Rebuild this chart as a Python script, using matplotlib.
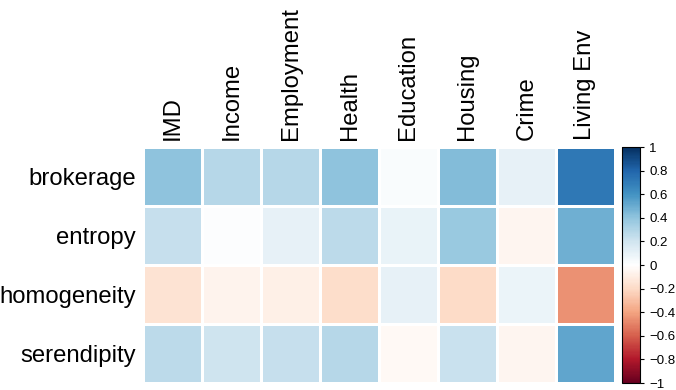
import numpy as np
import matplotlib
matplotlib.use("Agg")
import matplotlib.pyplot as plt
from matplotlib.colors import LinearSegmentedColormap

rows = ["brokerage", "entropy", "homogeneity", "serendipity"]
cols = ["IMD", "Income", "Employment", "Health", "Education", "Housing", "Crime", "Living Env"]

brokerage = [0.40, 0.28, 0.28, 0.40, 0.02, 0.43, 0.10, 0.71]
entropy = [0.23, 0.01, 0.10, 0.26, 0.09, 0.37, -0.06, 0.48]
homogeneity = [-0.16, -0.07, -0.09, -0.19, 0.10, -0.20, 0.08, -0.46]
serendipity = [0.26, 0.20, 0.23, 0.28, -0.04, 0.22, -0.06, 0.52]

cbar_ticks = [-1, -0.8, -0.6, -0.4, -0.2, 0, 0.2, 0.4, 0.6, 0.8, 1]

data = np.array([brokerage, entropy, homogeneity, serendipity])

palette = ["#67001F", "#B2182B", "#D6604D", "#F4A582", "#FDDBC7", "#FFFFFF",
           "#D1E5F0", "#92C5DE", "#4393C3", "#2166AC", "#053061"]
cmap = LinearSegmentedColormap.from_list("rdbu_corr", palette, N=200)

plt.rcParams['font.family'] = ['Liberation Sans', 'DejaVu Sans']

fig = plt.figure(figsize=(6.76, 3.90), dpi=100)
ax = fig.add_axes([143/676, 1 - 383/390, 472/676, 236/390])
mesh = ax.pcolormesh(data, cmap=cmap, vmin=-1, vmax=1, edgecolors="white", linewidth=0.75)
ax.set_xlim(0, len(cols))
ax.set_ylim(len(rows), 0)
for s in ax.spines.values():
    s.set_visible(False)
ax.xaxis.tick_top()
ax.set_xticks(np.arange(len(cols)) + 0.5)
ax.set_xticklabels(cols, rotation=90, fontsize=17.2)
ax.set_yticks(np.arange(len(rows)) + 0.5)
ax.set_yticklabels(rows, fontsize=17.2)
ax.tick_params(length=0, pad=5)

cax = fig.add_axes([622/676, 1 - 383/390, 18/676, 236/390])
cb = fig.colorbar(mesh, cax=cax, ticks=cbar_ticks)
cb.ax.set_yticklabels(["\u22121" if t == -1 else ("1" if t == 1 else ("0" if t == 0 else f"{t:g}".replace("-", "\u2212"))) for t in cbar_ticks])
cb.ax.tick_params(labelsize=9.5, length=3, width=0.8)
cb.outline.set_linewidth(0.8)

fig.savefig("out.png", dpi=100)
